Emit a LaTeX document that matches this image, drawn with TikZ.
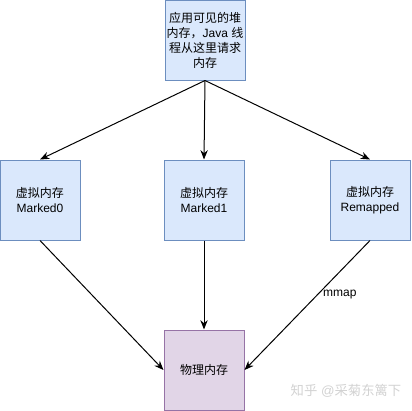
\documentclass[tikz,border=0pt]{standalone}
\usepackage{fontspec}
\setmainfont{Liberation Sans}
\newfontfamily\cjk{Noto Sans CJK SC}
\usetikzlibrary{positioning,arrows.meta}
\definecolor{memblue}{HTML}{DAE8FC}
\definecolor{memblueline}{HTML}{6C8EBF}
\definecolor{memviolet}{HTML}{E1D5E7}
\definecolor{memvioletline}{HTML}{9673A6}
\newcommand{\zh}[1]{{\cjk #1}}
\begin{document}
\begin{tikzpicture}[x=0.75pt,y=-0.75pt,
  font=\fontsize{9}{11.25}\selectfont,
  vmem/.style={draw=memblueline,fill=memblue,line width=0.75pt,
    minimum width=60pt,minimum height=60pt,align=center,inner sep=1pt},
  pmem/.style={vmem,draw=memvioletline,fill=memviolet},
  link/.style={line width=0.75pt,-{Stealth[length=7pt,width=5.5pt]}}]
\useasboundingbox (0,0) rectangle (411,411);
% the boxes
\node[vmem] (heap) at (205,40) {\zh{应用可见的堆}\\\zh{内存，}Java \zh{线}\\\zh{程从这里请求}\\\zh{内存}};
\node[vmem] (mark0) at (40,200) {\zh{虚拟内存}\\Marked0};
\node[vmem] (mark1) at (204,200) {\zh{虚拟内存}\\Marked1};
\node[vmem] (remap) at (370,200) {\zh{虚拟内存}\\Remapped};
\node[pmem] (phys) at (204,370) {\zh{物理内存}};
% the links
\draw[link] (heap.south) -- (mark0.north);
\draw[link] (heap.south) -- (mark1.north);
\draw[link] (heap.south) -- (remap.north);
\draw[link] (mark0.south) -- (phys.west);
\draw[link] (mark1.south) -- (phys.north);
\draw[link] (remap.south) -- node[pos=0.42,anchor=west,inner sep=4pt] (mmaplbl) {mmap} (phys.east);
% watermark
\node[text=gray!35,font=\fontsize{10}{12}\selectfont] (wmark) at (346,391) {\zh{知乎} @\zh{采菊东篱下}};
\end{tikzpicture}
\end{document}
